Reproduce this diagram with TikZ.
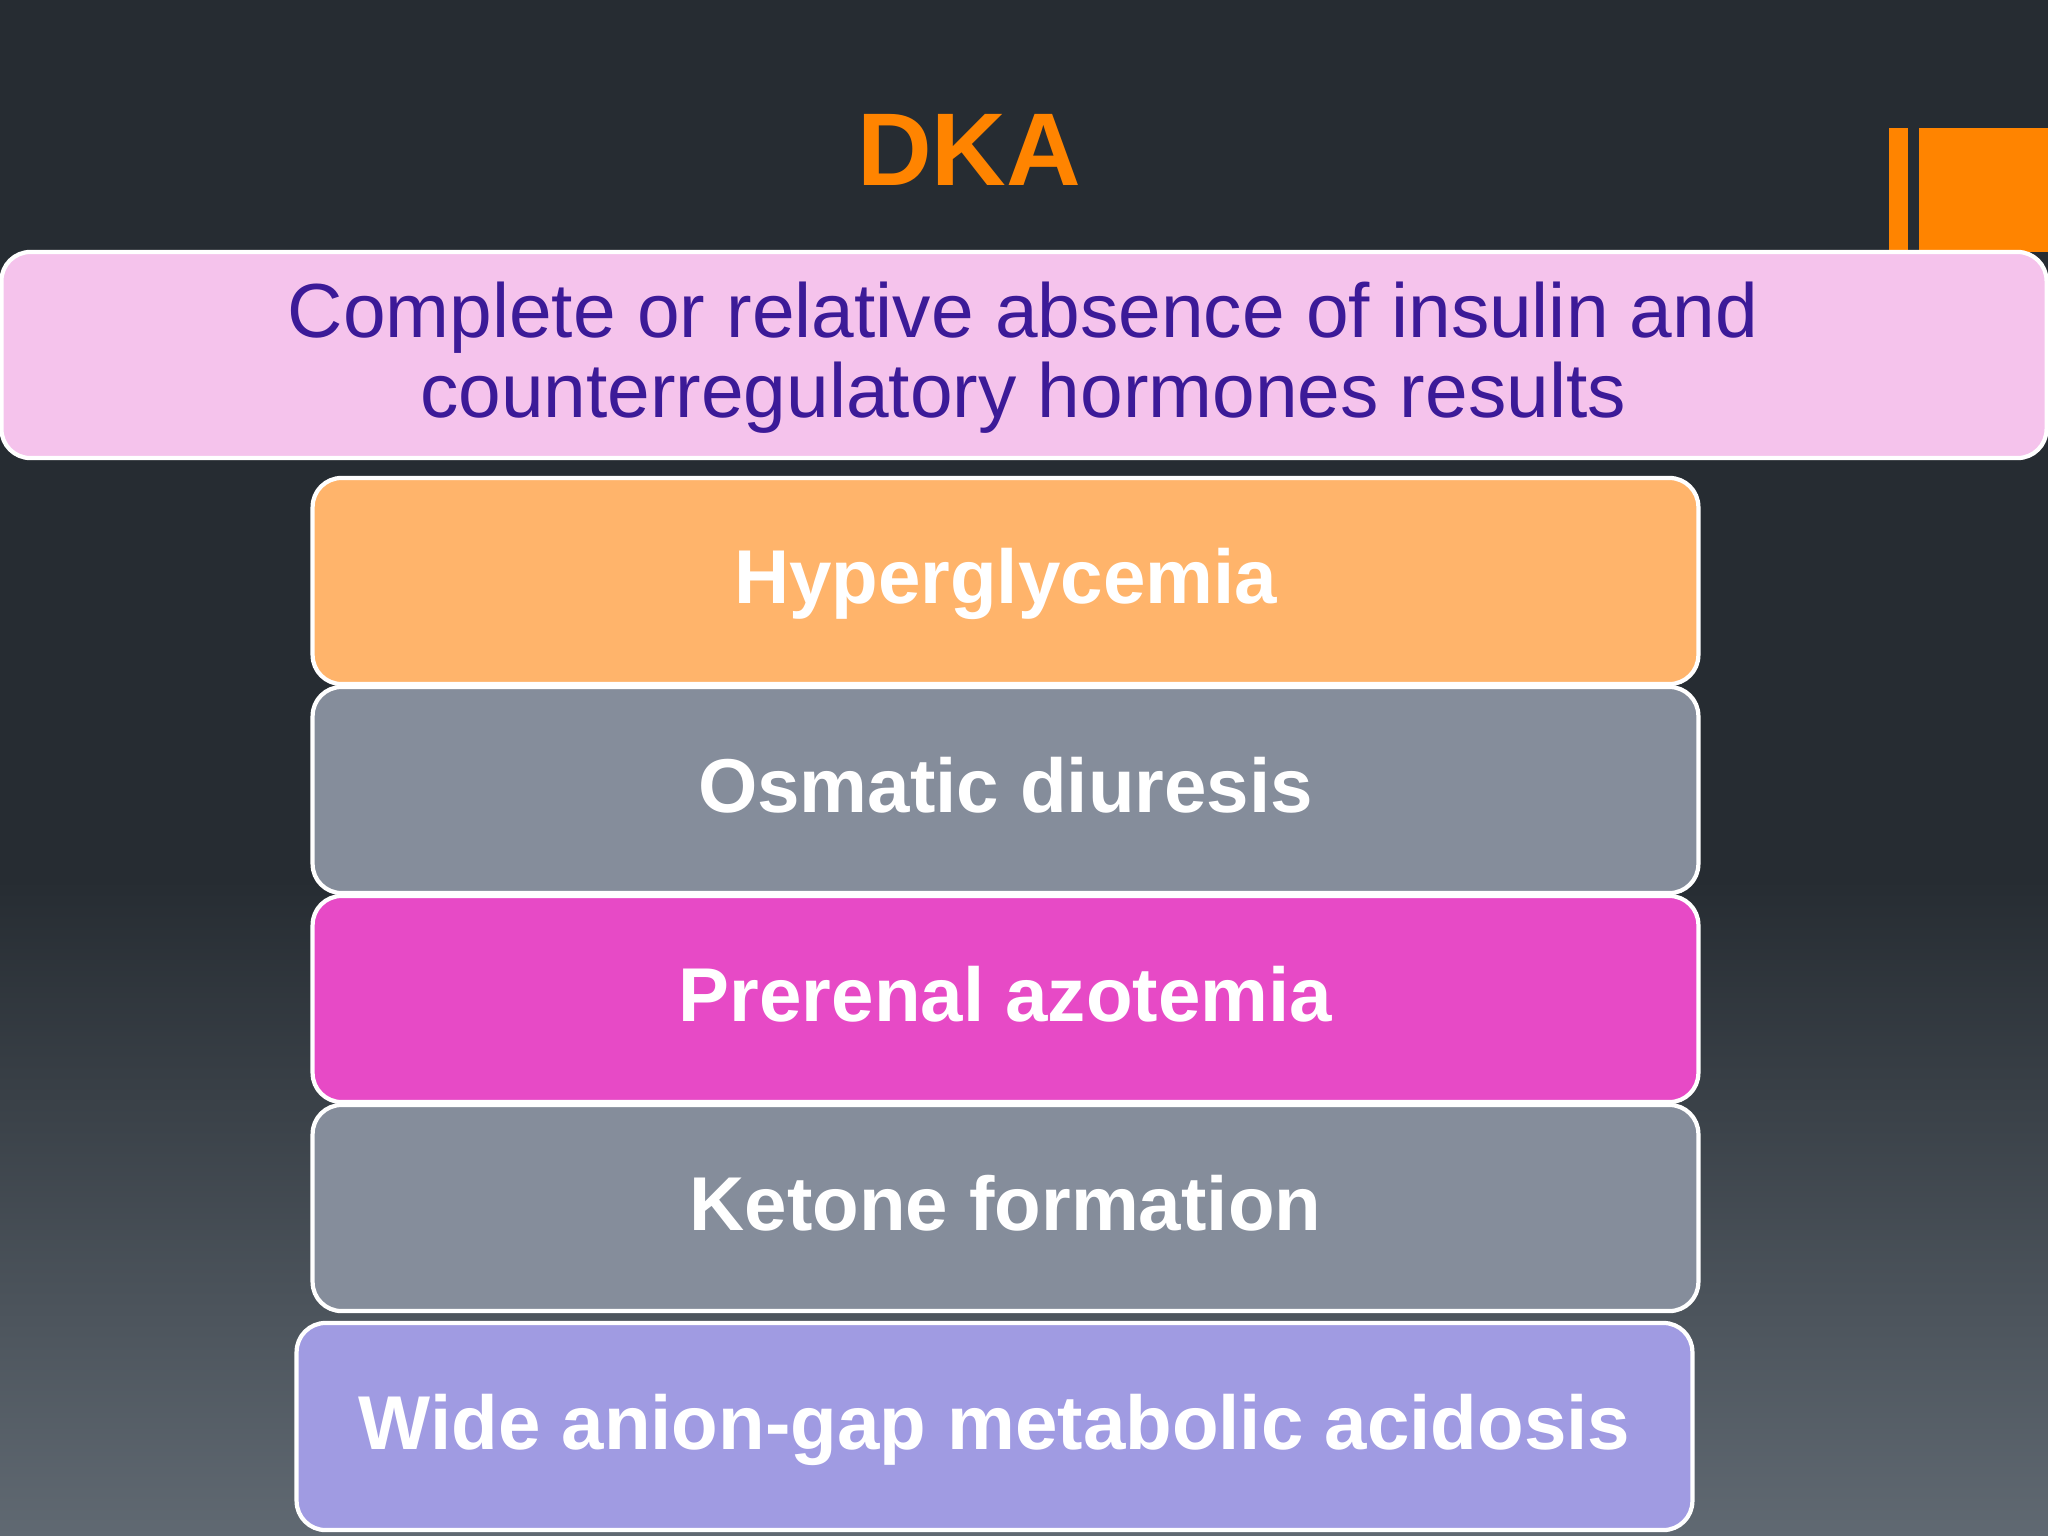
\documentclass[tikz,border=0pt]{standalone}
\usepackage{fontspec}
\setmainfont{Liberation Sans}
\definecolor{bgtop}{HTML}{262C32}
\definecolor{bgbot}{HTML}{606972}
\definecolor{dkaorange}{HTML}{FF8400}
\definecolor{pinkfill}{HTML}{F5C3EC}
\definecolor{purpletext}{HTML}{3C1A98}
\definecolor{orangefill}{HTML}{FFB46B}
\definecolor{grayfill}{HTML}{858D9B}
\definecolor{magentafill}{HTML}{E74AC6}
\definecolor{lavfill}{HTML}{A09BE2}
\tikzset{
  stackbox/.style={rectangle, rounded corners=0.29cm, draw=white, line width=1.2pt, inner sep=0pt},
  boxtext/.style={anchor=base, text=white, inner sep=0pt, font=\bfseries\fontsize{21.7pt}{24pt}\selectfont},
  toptext/.style={anchor=base, text=purpletext, inner sep=0pt, font=\fontsize{21.8pt}{24pt}\selectfont},
}
\begin{document}
\begin{tikzpicture}[x=0.01cm, y=-0.01cm]
\useasboundingbox (0,0) rectangle (2048,1536);
% background
\fill[bgtop] (0,0) rectangle (2048,880);
\shade[top color=bgtop, bottom color=bgbot] (0,879) rectangle (2048,1536);
% corner decoration
\fill[dkaorange] (1889,128) rectangle (1908,252);
\fill[dkaorange] (1919,128) rectangle (2048,252);
% title
\node[anchor=base, text=dkaorange, inner sep=0pt, font=\bfseries\fontsize{29.4pt}{32pt}\selectfont] (title) at (969,185) {DKA};
% top box
\node[stackbox, fill=pinkfill, minimum width=20.44cm, minimum height=2.06cm] (topbox) at (1024,355) {};
\node[toptext] (topline1) at (1023,337) {Complete or relative absence of insulin and};
\node[toptext] (topline2) at (1023,417) {counterregulatory hormones results};
% stack
\node[stackbox, fill=orangefill, minimum width=13.85cm, minimum height=2.06cm] (b1) at (1005.5,581) {};
\node[boxtext] (t1) at (1005.5,603) {Hyperglycemia};
\node[stackbox, fill=grayfill, minimum width=13.85cm, minimum height=2.06cm] (b2) at (1005.5,790) {};
\node[boxtext] (t2) at (1005.5,812) {Osmatic diuresis};
\node[stackbox, fill=magentafill, minimum width=13.85cm, minimum height=2.06cm] (b3) at (1005.5,999) {};
\node[boxtext] (t3) at (1005.5,1021) {Prerenal azotemia};
\node[stackbox, fill=grayfill, minimum width=13.85cm, minimum height=2.06cm] (b4) at (1005.5,1208) {};
\node[boxtext] (t4) at (1005.5,1230) {Ketone formation};
\node[stackbox, fill=lavfill, minimum width=13.95cm, minimum height=2.07cm] (b5) at (994.5,1426.5) {};
\node[boxtext] (t5) at (994.5,1449) {Wide anion-gap metabolic acidosis};
\end{tikzpicture}
\end{document}
